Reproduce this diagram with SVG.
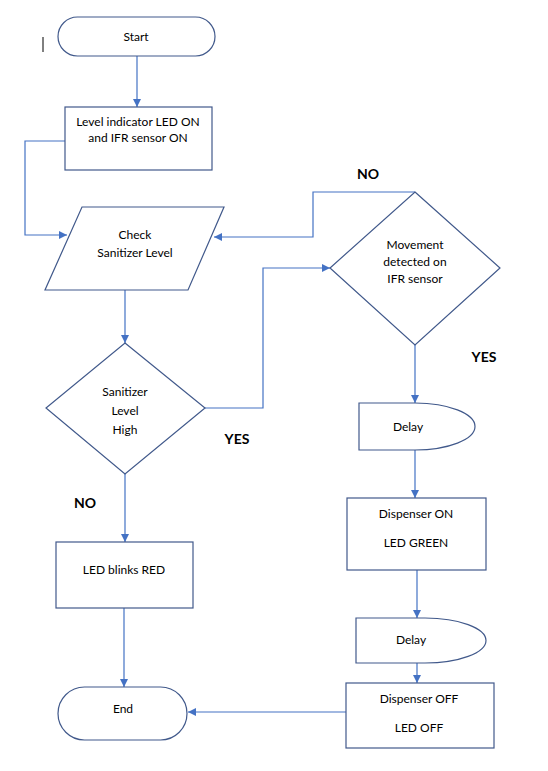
<svg xmlns="http://www.w3.org/2000/svg" width="548" height="771" viewBox="0 0 548 771">
<style>
.n{fill:#fff;stroke:#41598b;stroke-width:1.2}
.t{font-family:Lato,"Liberation Sans",sans-serif;font-size:12px;fill:#000;text-anchor:middle}
.b{font-family:Lato,"Liberation Sans",sans-serif;font-size:14px;font-weight:bold;fill:#000;text-anchor:middle}
.c{fill:none;stroke:#4472c4;stroke-width:1.2;marker-end:url(#a)}
</style>
<defs>
<marker id="a" viewBox="0 0 10 10" refX="10" refY="5" markerWidth="8" markerHeight="8" markerUnits="userSpaceOnUse" orient="auto">
<path d="M0,0 L10,5 L0,10 Z" fill="#4472c4"/>
</marker>
</defs>
<rect width="548" height="771" fill="#fff"/>
<line x1="43" y1="37" x2="43" y2="52" stroke="#000" stroke-width="1"/>
<g id="connectors">
<path class="c" d="M137,56 V107"/>
<path class="c" d="M65,141 H25 V235 H67"/>
<path class="c" d="M415,192 H313 V237 H214"/>
<path class="c" d="M125,290 V343"/>
<path class="c" d="M205,408 H263 V268 H330"/>
<path class="c" d="M415,345 V403"/>
<path class="c" d="M415,450 V498"/>
<path class="c" d="M417,570 V618"/>
<path class="c" d="M417,663 V683"/>
<path class="c" d="M346,712 H188"/>
<path class="c" d="M125,474 V542"/>
<path class="c" d="M124,608 V687"/>
</g>
<g id="start">
<rect class="n" x="58" y="17" width="157" height="39" rx="19.5"/>
<text class="t" x="136" y="41">Start</text>
</g>
<g id="init">
<rect class="n" x="65" y="107" width="147" height="63"/>
<text class="t" x="138" y="126">Level indicator LED ON</text>
<text class="t" x="138" y="142">and IFR sensor ON</text>
</g>
<g id="check">
<polygon class="n" points="82,207 224,207 188,290 45,290"/>
<text class="t" x="135" y="239">Check</text>
<text class="t" x="135" y="257">Sanitizer Level</text>
</g>
<g id="sanitizerHigh">
<polygon class="n" points="125,343 205,408 125,474 46,408"/>
<text class="t" x="125" y="396">Sanitizer</text>
<text class="t" x="125" y="415">Level</text>
<text class="t" x="125" y="434">High</text>
</g>
<g id="movement">
<polygon class="n" points="415,192 500,268 415,345 330,268"/>
<text class="t" x="415" y="249">Movement</text>
<text class="t" x="415" y="266">detected on</text>
<text class="t" x="415" y="283">IFR sensor</text>
</g>
<g id="delay1">
<path class="n" d="M359,403 H415 A60,23.5 0 0 1 415,450 H359 Z"/>
<text class="t" x="408" y="431">Delay</text>
</g>
<g id="dispenserOn">
<rect class="n" x="347" y="498" width="139" height="72"/>
<text class="t" x="416" y="518">Dispenser ON</text>
<text class="t" x="416" y="547">LED GREEN</text>
</g>
<g id="delay2">
<path class="n" d="M356,618 H425 A61,22.5 0 0 1 425,663 H356 Z"/>
<text class="t" x="411" y="644">Delay</text>
</g>
<g id="dispenserOff">
<rect class="n" x="346" y="683" width="148" height="65"/>
<text class="t" x="419" y="703">Dispenser OFF</text>
<text class="t" x="419" y="732">LED OFF</text>
</g>
<g id="ledRed">
<rect class="n" x="56" y="542" width="137" height="66"/>
<text class="t" x="124" y="574">LED blinks RED</text>
</g>
<g id="end">
<rect class="n" x="58" y="687" width="129" height="53" rx="26.5"/>
<text class="t" x="123" y="713">End</text>
</g>
<g id="labels">
<text class="b" x="368" y="179">NO</text>
<text class="b" x="484" y="362">YES</text>
<text class="b" x="237" y="444">YES</text>
<text class="b" x="85" y="508">NO</text>
</g>
</svg>
